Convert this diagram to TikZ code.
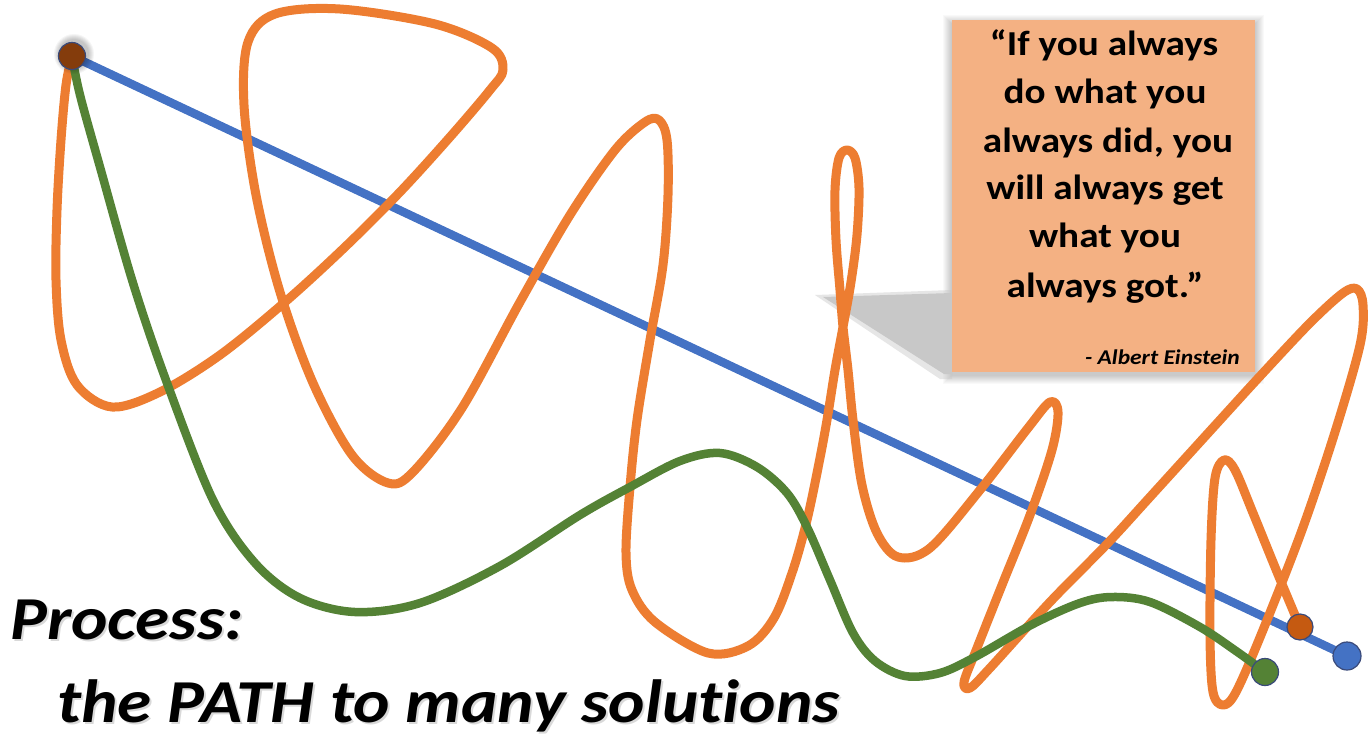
\documentclass[tikz,border=0pt]{standalone}
\usepackage{fontspec}
\setmainfont{Carlito}
\newfontfamily\quotefont[FakeStretch=1.12, Ligatures=NoCommon]{Carlito}
\newfontfamily\titlefont[FakeStretch=1.135, Ligatures=NoCommon]{Carlito}
\definecolor{porange}{HTML}{ED7D31}
\definecolor{pblue}{HTML}{4472C4}
\definecolor{pgreen}{HTML}{548235}
\definecolor{boxfill}{HTML}{F4B183}
\definecolor{brownfill}{HTML}{843C0C}
\definecolor{darkorange}{HTML}{C55A11}
\definecolor{dotedge}{HTML}{3A4A7A}
\definecolor{shadowgray}{RGB}{200,200,200}
\tikzset{
  orangepath/.style={draw=porange, line width=9pt, line cap=round, line join=round},
  bluepath/.style={draw=pblue, line width=8.5pt},
  greenpath/.style={draw=pgreen, line width=8.5pt, line cap=round, line join=round},
  dotball/.style={circle, draw=dotedge, line width=1.2pt, minimum size=27pt, inner sep=0pt},
  quoteline/.style={font=\quotefont\bfseries\fontsize{35}{42}\selectfont, anchor=base, inner sep=0pt},
  authorline/.style={font=\quotefont\bfseries\itshape\fontsize{21}{25}\selectfont, anchor=base east, inner sep=0pt},
  titleline/.style={font=\titlefont\bfseries\itshape\fontsize{61}{70}\selectfont, anchor=base west, inner sep=0pt},
  titleshadow/.style={titleline, text=black, opacity=0.15}
}
\begin{document}
\begin{tikzpicture}[x=1pt,y=-1pt]
\path[use as bounding box, fill=white] (0,0) rectangle (1369,753);

% end points
\coordinate (s) at (72,56);
\coordinate (oe) at (1300,627);
\coordinate (be) at (1347,656);
\coordinate (ge) at (1265,672);

% soft shadow of the quote box
\foreach \k in {1,...,9}
  \fill[black, opacity=0.025] (952-\k,24-\k) rectangle (1255+\k,375+\k);
% grey cast shadow to the left of the box
\fill[shadowgray, opacity=0.45] (815,295) -- (952,290) -- (952,379) -- (940,379) -- cycle;
\fill[shadowgray] (823,297) -- (952,293) -- (952,374) -- (944,374) -- cycle;

% quote box
\node[fill=boxfill, minimum width=303pt, minimum height=352pt, inner sep=0pt, anchor=north west] (box) at (952,20) {};

% blue straight path
\draw[bluepath] (s) -- (be);

% orange winding path
\draw[orangepath] plot[smooth, tension=0.55] coordinates {
 (s) (66,85) (61,140) (57,210) (56,280) (61,340) (77,385) (112,407)
 (160,392) (220,355) (285,302) (345,247) (400,192) (450,137) (490,90)
 (503,70) (492,48) (435,24) (340,9) (275,14) (248,42) (244,105)
 (256,195) (280,292) (313,383) (352,455) (388,483) (413,472) (462,408)
 (520,302) (570,215) (615,150) (645,122) (659,120) (667,140) (668,195)
 (663,265) (650,340) (637,420) (630,487) (626,553) (632,590) (655,622)
 (708,653) (748,646) (774,618) (793,570) (807,520) (819,463) (827,420)
 (835,370) (843,327) (851,282) (857,235) (859,188) (855,158) (847,150)
 (839,158) (835,190) (836,240) (840,290) (843,327) (848,370) (853,420)
 (862,485) (877,533) (898,557) (930,548) (980,490) (1028,428) (1050,402)
 (1058,412) (1052,450) (1030,515) (1002,585) (977,648) (964,682) (970,688)
 (990,668) (1050,602) (1107,544) (1150,497) (1220,420) (1262,374) (1310,323)
 (1343,293) (1357,289) (1363,305) (1360,345) (1335,432) (1302,530) (1263,630)
 (1236,692) (1223,705) (1213,692) (1210,637) (1211,540) (1215,478) (1224,460)
 (1235,470) (1253,513) (1277,572) (oe)};

% green path
\draw[greenpath] plot[smooth, tension=0.55] coordinates {
 (s) (80,95) (100,167) (133,283) (167,383) (213,500) (255,563) (300,598)
 (355,612) (420,603) (500,566) (580,515) (630,487) (680,461) (720,453)
 (757,467) (787,493) (807,527) (830,580) (853,633) (875,661) (905,676)
 (940,673) (975,657) (1033,624) (1080,603) (1112,597) (1150,602) (1200,627)
 (1236,651) (ge)};

% dots
\foreach \k in {1,...,6}
  \fill[black, opacity=0.04] (74,54) circle ({14+\k});
\node[dotball, fill=brownfill] (start) at (s) {};
\node[dotball, fill=darkorange, minimum size=26pt] (orangeend) at (oe) {};
\node[dotball, fill=pblue, minimum size=28pt] (blueend) at (be) {};
\node[dotball, fill=pgreen] (greenend) at (ge) {};

% quote text
\node[quoteline] (q1) at (1104,55) {“If you always};
\node[quoteline] (q2) at (1105,103) {do what you};
\node[quoteline] (q3) at (1108,152) {always did, you};
\node[quoteline] (q4) at (1105,199) {will always get};
\node[quoteline] (q5) at (1105,247) {what you};
\node[quoteline] (q6) at (1105,297) {always got.”};
\node[authorline] (author) at (1240,364) {- Albert Einstein};

% title text
\node[titleshadow] (t1s) at (12,641) {Process:};
\node[titleshadow] (t2s) at (59,724) {the PATH to many solutions};
\node[titleline] (t1) at (10,639) {Process:};
\node[titleline] (t2) at (57,722) {the PATH to many solutions};
\end{tikzpicture}
\end{document}
